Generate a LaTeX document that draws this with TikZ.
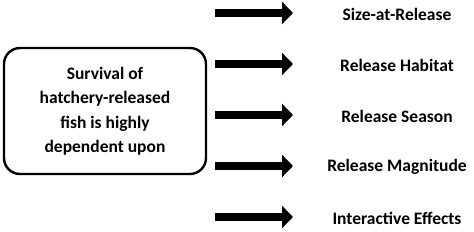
\documentclass[tikz,border=0pt]{standalone}
\usepackage{fontspec}
\setmainfont{Carlito}
\usetikzlibrary{arrows.meta}

\begin{document}
\begin{tikzpicture}[
    x=1pt, y=-1pt,
    every node/.style={font=\bfseries\fontsize{17.5}{21}\selectfont},
    fatarrow/.style={line width=8pt, -{Triangle[width=22pt, length=11pt]}},
  ]
  \useasboundingbox (0,0) rectangle (474,232);

  \node[draw, line width=2.4pt, rounded corners=16pt,
    minimum width=202pt, minimum height=126pt, align=center,
    font=\bfseries\fontsize{17.5}{24.5}\selectfont,
  ] (hub) at (105,111) {Survival of\\hatchery-released\\fish is highly\\dependent upon};

  \foreach \i/\factor in {
    0/Size-at-Release,
    1/Release Habitat,
    2/Release Season,
    3/Release Magnitude,
    4/Interactive Effects%
  }{
    \coordinate (tail\i) at (215, 13+51*\i);
    \coordinate (tip\i) at (293, 13+51*\i);
    \node (factor\i) at (397, 14+51*\i) {\factor};
    \draw[fatarrow] (tail\i) -- (tip\i);
  }
\end{tikzpicture}
\end{document}
